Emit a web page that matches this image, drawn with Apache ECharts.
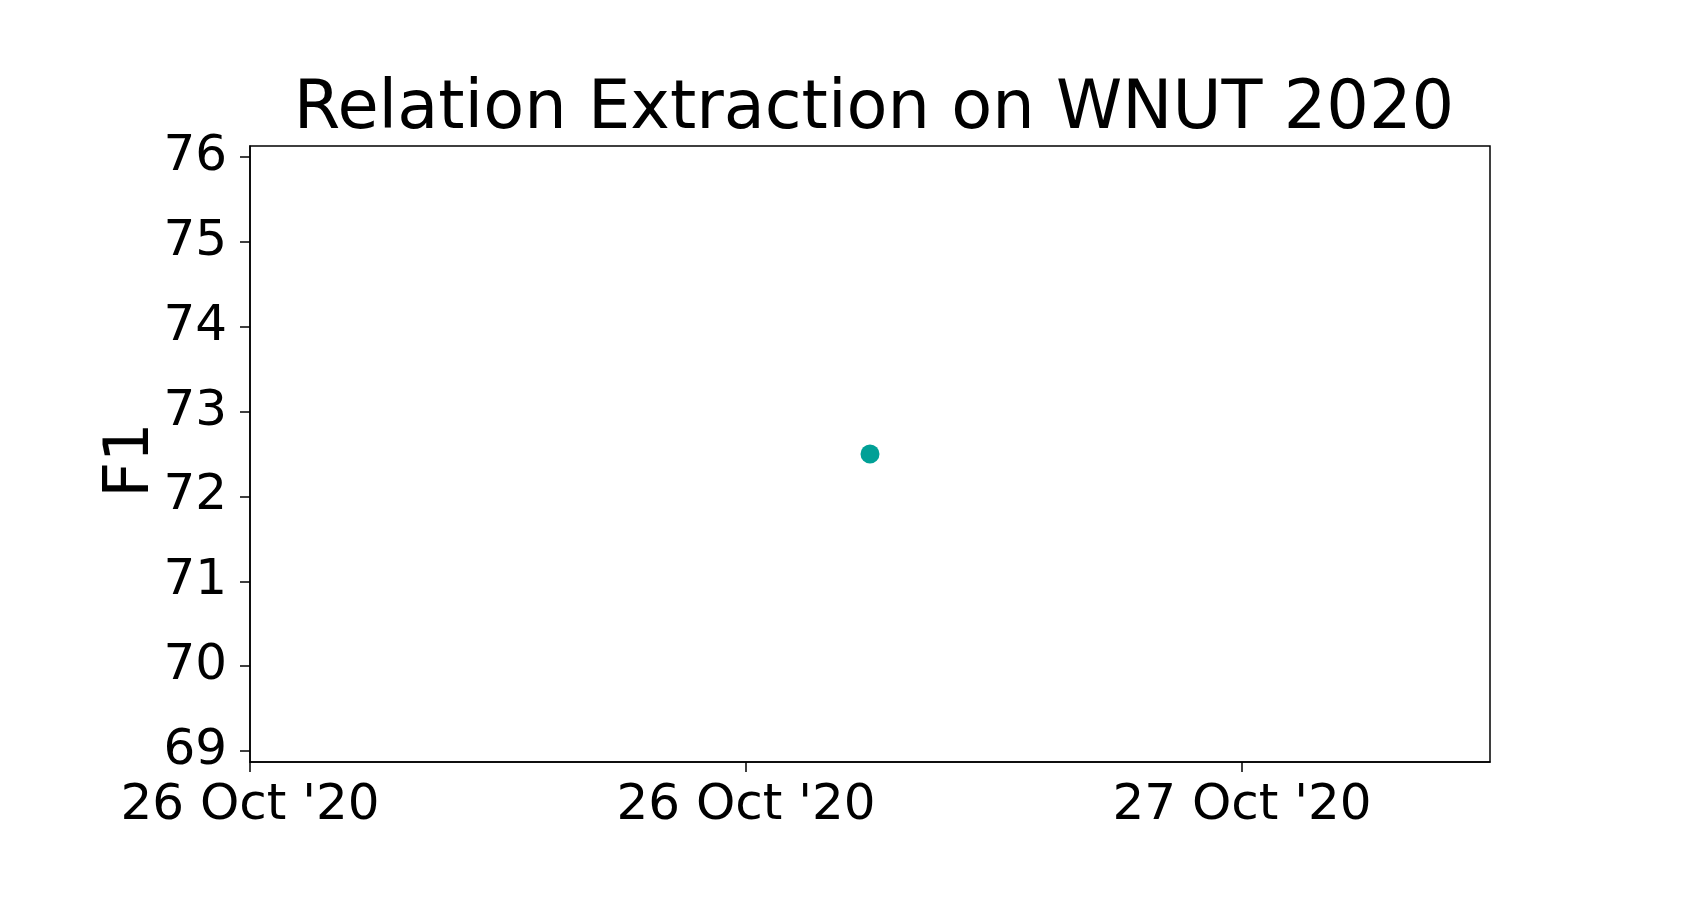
<!DOCTYPE html>
<html>
<head>
<meta charset="utf-8">
<script src="https://cdn.jsdelivr.net/npm/echarts@6/dist/echarts.min.js"></script>
<style>
  html, body { margin: 0; padding: 0; background: #fff; }
  #chart { width: 1700px; height: 900px; }
</style>
</head>
<body>
<div id="chart"></div>
<script>
// data
const dates = ['2020-10-26T15:00:00Z']
const f1Scores = [72.5]
const xTickDates = ['2020-10-26T00:00:00Z', '2020-10-26T12:00:00Z', '2020-10-27T00:00:00Z']
const yTicks = [69, 70, 71, 72, 73, 74, 75, 76]

const months = ['Jan', 'Feb', 'Mar', 'Apr', 'May', 'Jun', 'Jul', 'Aug', 'Sep', 'Oct', 'Nov', 'Dec']
const fmtDate = function (v) {
  const d = new Date(v)
  return d.getUTCDate() + ' ' + months[d.getUTCMonth()] + " '" + String(d.getUTCFullYear()).slice(2)
}

const xTicks = xTickDates.map(s => Date.parse(s))
const points = dates.map((s, i) => [Date.parse(s), f1Scores[i]])
const HOUR = 3600 * 1000

const font = 'DejaVu Sans'
const myChart = echarts.init(document.getElementById('chart'))

const option = {
  animation: false,
  title: {
    text: 'Relation Extraction on WNUT 2020',
    left: 869,
    top: 72,
    textAlign: 'center',
    textStyle: { fontFamily: font, fontSize: 67, fontWeight: 'normal', color: '#000' }
  },
  grid: {
    left: 250,
    top: 146,
    right: 210,
    bottom: 138,
    show: true,
    borderColor: '#000',
    borderWidth: 1.5,
    backgroundColor: '#fff'
  },
  xAxis: {
    type: 'value',
    min: xTicks[0],
    max: xTicks[0] + 30 * HOUR,
    splitLine: { show: false },
    axisLine: { show: true, onZero: false, lineStyle: { color: '#000', width: 1.5 } },
    axisTick: { show: true, length: 10, customValues: xTicks, lineStyle: { color: '#000', width: 1.5 } },
    axisLabel: {
      customValues: xTicks,
      formatter: fmtDate,
      margin: 19,
      fontFamily: font,
      fontSize: 50,
      color: '#000'
    }
  },
  yAxis: {
    type: 'value',
    min: 68.87,
    max: 76.13,
    name: 'F1',
    nameLocation: 'middle',
    nameGap: 87,
    nameMoveOverlap: false,
    nameTextStyle: { fontFamily: font, fontSize: 62, color: '#000', padding: [0, 12, 0, 0] },
    splitLine: { show: false },
    axisLine: { show: true, lineStyle: { color: '#000', width: 1.5 } },
    axisTick: { show: true, length: 10, customValues: yTicks, lineStyle: { color: '#000', width: 1.5 } },
    axisLabel: {
      customValues: yTicks,
      margin: 23,
      fontFamily: font,
      fontSize: 50,
      color: '#000'
    }
  },
  series: [
    {
      name: 'WNUT 2020',
      type: 'scatter',
      symbol: 'circle',
      symbolSize: 19,
      itemStyle: { color: '#00a096', opacity: 1 },
      data: points
    }
  ]
}

myChart.setOption(option)
</script>
</body>
</html>
